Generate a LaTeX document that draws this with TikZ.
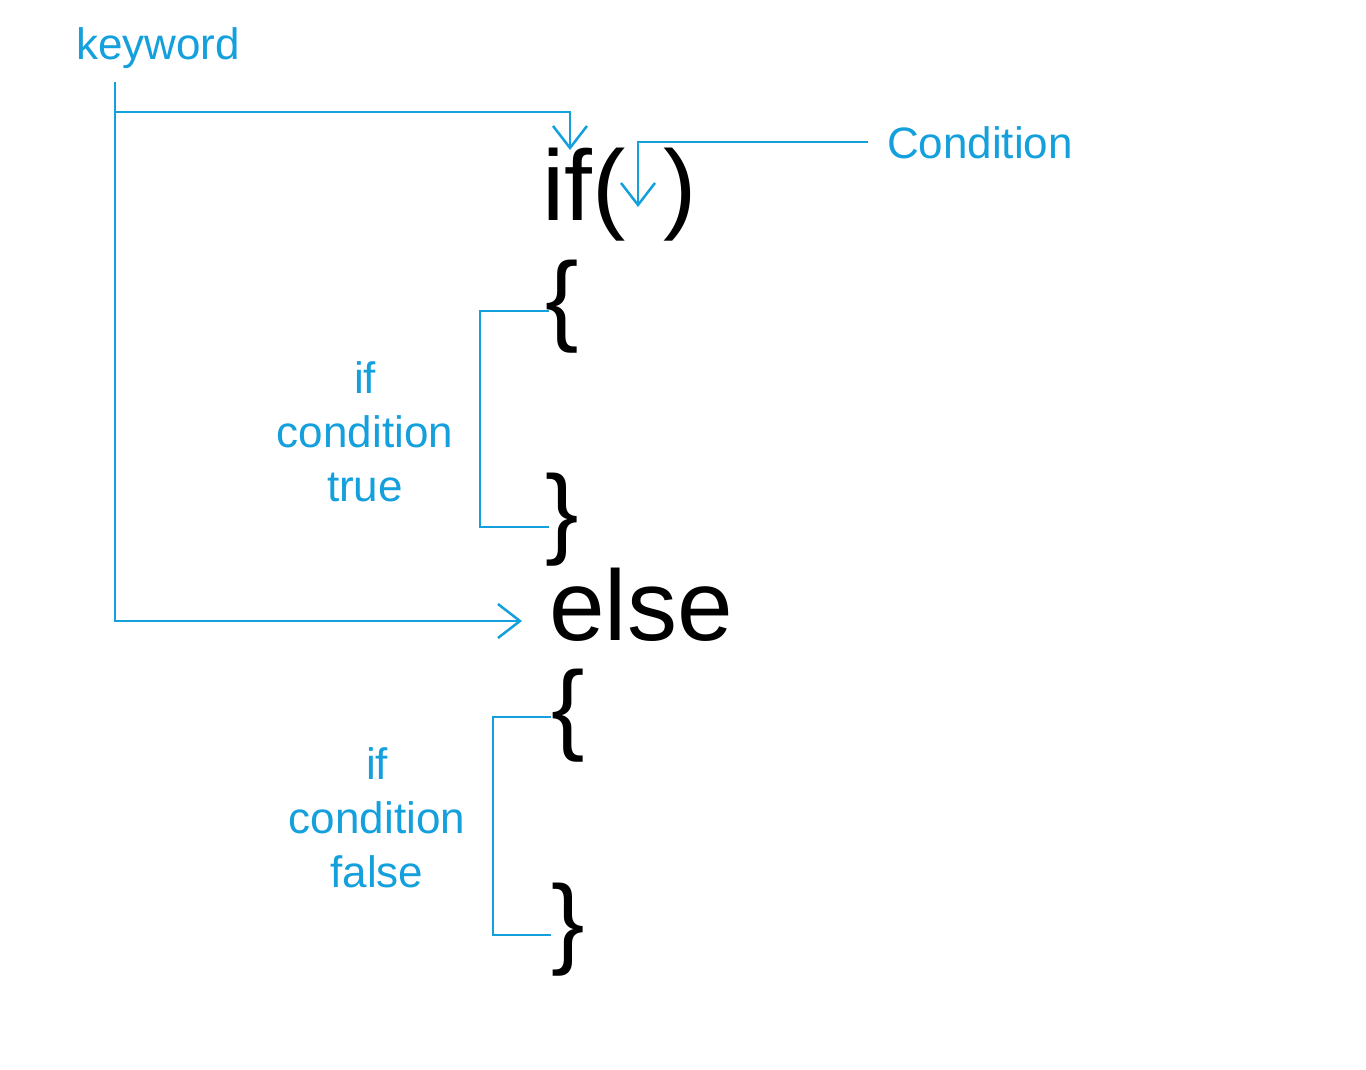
\documentclass[tikz,border=0pt]{standalone}
\usepackage{fontspec}
\setmainfont{Liberation Sans}
\usetikzlibrary{arrows.meta}
\definecolor{kblue}{RGB}{20,160,220}
\begin{document}
\begin{tikzpicture}[x=1pt,y=-1pt,
  lbl/.style={text=kblue,font=\fontsize{44}{54}\selectfont,align=center,inner sep=0},
  big/.style={text=black,font=\fontsize{100}{110}\selectfont,inner sep=0},
  con/.style={draw=kblue,line width=2.5pt},
  tip/.style={-{Straight Barb[length=22pt,width=34pt,line width=2.5pt]}}]
\useasboundingbox[fill=white] (0,0) rectangle (1366,1070);
\node[lbl] (kw) at (158,48) {keyword};
\node[lbl] (cond) at (980,143) {Condition};
\node[big,anchor=west] (if) at (542,195) {if(\hspace{38pt})};
\node[big] (ob1) at (562,307) {\{};
\node[big] (cb1) at (562,520) {\}};
\node[big,anchor=west] (else) at (549,605) {else};
\node[big] (ob2) at (568,716) {\{};
\node[big] (cb2) at (568,930) {\}};
\node[lbl] (t) at (365,432) {if\\condition\\true};
\node[lbl] (f) at (377,818) {if\\condition\\false};
\coordinate (kwtop) at (115,82);
\coordinate (ifa) at (570,150);
\coordinate (elsea) at (522,621);
\coordinate (conda) at (638,207);
\draw[con,tip] (kwtop) -- (115,621) -- (elsea);
\draw[con,tip] (115,112) -- (570,112) -- (ifa);
\draw[con,tip] (868,142) -- (638,142) -- (conda);
\draw[con] (549,311) -- (480,311) -- (480,527) -- (549,527);
\draw[con] (551,717) -- (493,717) -- (493,935) -- (551,935);
\end{tikzpicture}
\end{document}
